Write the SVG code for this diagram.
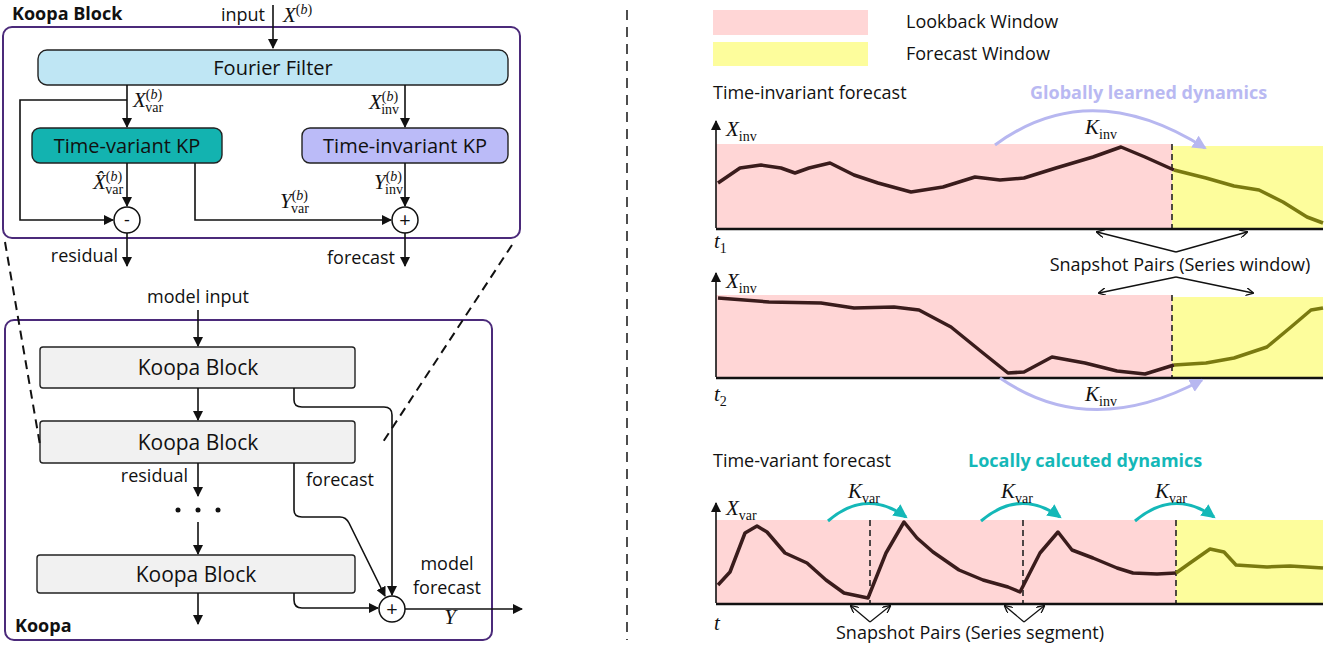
<svg xmlns="http://www.w3.org/2000/svg" width="1331" height="647" viewBox="0 0 1331 647">
<style>
text{font-family:"Open Sans","DejaVu Sans",sans-serif;font-size:18px;fill:#111}
.n{font-size:20px}
.b{font-weight:bold}
.m{font-family:"Liberation Serif",serif;font-style:italic;font-size:21px}
.s{font-family:"Liberation Serif",serif;font-size:14px;font-style:normal}
.si{font-family:"Liberation Serif",serif;font-size:14px;font-style:italic}
.c{text-anchor:middle}
.r{text-anchor:end}
.ln{fill:none;stroke:#111;stroke-width:1.6}
.box{stroke:#222;stroke-width:1.4}
.dash{fill:none;stroke:#111;stroke-width:2;stroke-dasharray:9 6}
.dk{fill:none;stroke:#3a1c1c;stroke-width:3.5;stroke-linejoin:round}
.ol{fill:none;stroke:#7a7a10;stroke-width:3.5;stroke-linejoin:round}
.vd{stroke:#222;stroke-width:1.6;stroke-dasharray:6 4}
</style>
<defs>
<marker id="a" markerWidth="10" markerHeight="10" refX="9" refY="5" orient="auto" markerUnits="userSpaceOnUse"><path d="M0,0 L10,5 L0,10 z" fill="#111"/></marker>
<marker id="sa" markerWidth="8" markerHeight="8" refX="7" refY="4" orient="auto" markerUnits="userSpaceOnUse"><path d="M0,0 L8,4 L0,8" fill="none" stroke="#111" stroke-width="1.3"/></marker>
<marker id="pa" markerWidth="16" markerHeight="16" refX="12" refY="8" orient="auto" markerUnits="userSpaceOnUse"><path d="M0,1 L14,8 L0,15 z" fill="#b7b7f0"/></marker>
<marker id="ta" markerWidth="16" markerHeight="16" refX="12" refY="8" orient="auto" markerUnits="userSpaceOnUse"><path d="M0,1 L14,8 L0,15 z" fill="#14b8b8"/></marker>
</defs>

<g id="koopa-block-frame">
<rect x="3" y="27" width="517" height="211" rx="9" fill="#fff" stroke="#4b2a7a" stroke-width="2"/>
<text x="12" y="20" class="b">Koopa Block</text>
</g>
<g id="fourier"><rect x="38" y="50" width="470" height="35" rx="9" fill="#bfe6f4" class="box"/><text x="273" y="75" class="c n">Fourier Filter</text></g>
<g id="tvkp"><rect x="32" y="128" width="190" height="35" rx="8" fill="#13b3b0" class="box"/><text x="127" y="153" class="c n">Time-variant KP</text></g>
<g id="tikp"><rect x="302" y="128" width="206" height="35" rx="8" fill="#bbbbf8" class="box"/><text x="405" y="153" class="c n">Time-invariant KP</text></g>
<g id="minus"><circle cx="127" cy="220" r="13" fill="#fff" stroke="#111" stroke-width="1.5"/><text x="127" y="226" class="c">-</text></g>
<g id="plus1"><circle cx="405" cy="220" r="13" fill="#fff" stroke="#111" stroke-width="1.5"/><text x="405" y="227" class="c n">+</text></g>

<g id="koopa-frame">
<rect x="5" y="320" width="487" height="320" rx="9" fill="#fff" stroke="#4b2a7a" stroke-width="2"/>
<text x="15" y="632" class="b">Koopa</text>
</g>
<g id="kb1"><rect x="40" y="347" width="315" height="41" rx="3" fill="#f1f1f1" class="box"/><text x="198" y="375" class="c" style="font-size:21px">Koopa Block</text></g>
<g id="kb2"><rect x="40" y="421" width="315" height="42" rx="3" fill="#f1f1f1" class="box"/><text x="198" y="450" class="c" style="font-size:21px">Koopa Block</text></g>
<g id="kb3"><rect x="37" y="555" width="318" height="38" rx="3" fill="#f1f1f1" class="box"/><text x="196" y="582" class="c" style="font-size:21px">Koopa Block</text></g>
<g id="plus2"><circle cx="392" cy="609" r="13" fill="#fff" stroke="#111" stroke-width="1.5"/><text x="392" y="616" class="c n">+</text></g>

<g id="connectors">
<path class="ln" d="M273,5 V48" marker-end="url(#a)"/>
<path class="ln" d="M127,85 V127" marker-end="url(#a)"/>
<path class="ln" d="M127,100 H20 V220 H113" marker-end="url(#a)"/>
<path class="ln" d="M405,85 V127" marker-end="url(#a)"/>
<path class="ln" d="M127,163 V206" marker-end="url(#a)"/>
<path class="ln" d="M195,163 V220 H391" marker-end="url(#a)"/>
<path class="ln" d="M405,163 V206" marker-end="url(#a)"/>
<path class="ln" d="M127,233 V266" marker-end="url(#a)"/>
<path class="ln" d="M405,233 V266" marker-end="url(#a)"/>
<path class="dash" d="M5,242 L40,445"/>
<path class="dash" d="M512,245 L381,445"/>
<path class="ln" d="M198,310 V346" marker-end="url(#a)"/>
<path class="ln" d="M198,388 V420" marker-end="url(#a)"/>
<path class="ln" d="M198,463 V496" marker-end="url(#a)"/>
<path class="ln" d="M198,522 V554" marker-end="url(#a)"/>
<path class="ln" d="M198,593 V624" marker-end="url(#a)"/>
<path class="ln" d="M294,388 V400 Q294,407 302,407 H384 Q392,407 392,415 V595" marker-end="url(#a)"/>
<path class="ln" d="M294,463 V510 Q294,517 302,517 H340 Q346,517 349,523 L385,596" marker-end="url(#a)"/>
<path class="ln" d="M294,593 V600 Q294,608 302,608 H378" marker-end="url(#a)"/>
<path class="ln" d="M405,609 H522" marker-end="url(#a)"/>
<path class="vd" d="M627,10 V640" style="stroke-dasharray:10 7"/>
</g>

<g id="labels-left">
<text x="265" y="21" class="r">input</text>
<text x="283" y="22" class="m">X<tspan class="s" dy="-8">(</tspan><tspan class="si">b</tspan><tspan class="s">)</tspan></text>
<text x="133" y="107" class="m">X<tspan class="s" dy="-8">(</tspan><tspan class="si">b</tspan><tspan class="s">)</tspan><tspan class="s" dx="-17" dy="13">var</tspan></text>
<text x="369" y="109" class="m">X<tspan class="s" dy="-8">(</tspan><tspan class="si">b</tspan><tspan class="s">)</tspan><tspan class="s" dx="-17" dy="13">inv</tspan></text>
<text x="93" y="189" class="m">X̂<tspan class="s" dy="-8">(</tspan><tspan class="si">b</tspan><tspan class="s">)</tspan><tspan class="s" dx="-17" dy="13">var</tspan></text>
<text x="374" y="189" class="m">Y<tspan class="s" dy="-8">(</tspan><tspan class="si">b</tspan><tspan class="s">)</tspan><tspan class="s" dx="-17" dy="13">inv</tspan></text>
<text x="280" y="208" class="m">Y<tspan class="s" dy="-8">(</tspan><tspan class="si">b</tspan><tspan class="s">)</tspan><tspan class="s" dx="-17" dy="13">var</tspan></text>
<text x="118" y="262" class="r">residual</text>
<text x="395" y="264" class="r">forecast</text>
<text x="198" y="303" class="c">model input</text>
<text x="188" y="482" class="r">residual</text>
<text x="306" y="486">forecast</text>
<circle cx="178" cy="510" r="2.5" fill="#111"/><circle cx="198" cy="510" r="2.5" fill="#111"/><circle cx="218" cy="510" r="2.5" fill="#111"/>
<text x="447" y="570" class="c">model</text>
<text x="447" y="594" class="c">forecast</text>
<text x="450" y="624" class="m c">Y</text>
</g>

<g id="legend">
<rect x="713" y="10" width="155" height="25" fill="#ffd6d6"/><text x="906" y="28">Lookback Window</text>
<rect x="713" y="42" width="155" height="24" fill="#fdfd9c"/><text x="906" y="60">Forecast Window</text>
</g>

<g id="chart1">
<text x="713" y="99">Time-invariant forecast</text>
<text x="1030" y="99" class="b" style="fill:#b9b9f2">Globally learned dynamics</text>
<rect x="716" y="144" width="456" height="84" fill="#ffd6d6"/>
<rect x="1172" y="146" width="151" height="82" fill="#fdfd9c"/>
<path class="vd" d="M1172,144 V228"/>
<path class="dk" d="M718,183 L740,168 761,165 781,168 795,173 809,168 830,163 854,175 878,183 911,192 943,187 975,177 1000,180 1024,178 1056,168 1093,157 1121,147 1145,157 1174,170"/>
<path class="ol" d="M1174,170 L1206,178 1234,186 1259,190 1283,202 1307,217 1323,223"/>
<path class="ln" d="M716,228 V121" marker-end="url(#a)"/>
<path class="ln" d="M716,229 H1323" style="stroke-width:2.5"/>
<path d="M995,145 Q1090,75 1205,148" fill="none" stroke="#b7b7f0" stroke-width="3" marker-end="url(#pa)"/>
<text x="726" y="136" class="m">X<tspan class="s" dy="5">inv</tspan></text>
<text x="1085" y="134" class="m">K<tspan class="s" dy="5">inv</tspan></text>
<text x="714" y="248" class="m">t<tspan class="s" dy="5">1</tspan></text>
</g>

<g id="snapshot-window">
<path class="ln" d="M1176,252 L1097,232" marker-end="url(#sa)" style="stroke-width:1.3"/>
<path class="ln" d="M1176,252 L1247,232" marker-end="url(#sa)" style="stroke-width:1.3"/>
<text x="1180" y="271" class="c">Snapshot Pairs (Series window)</text>
<path class="ln" d="M1176,277 L1099,293" marker-end="url(#sa)" style="stroke-width:1.3"/>
<path class="ln" d="M1176,277 L1253,293" marker-end="url(#sa)" style="stroke-width:1.3"/>
</g>

<g id="chart2">
<rect x="716" y="295" width="456" height="82" fill="#ffd6d6"/>
<rect x="1172" y="297" width="151" height="80" fill="#fdfd9c"/>
<path class="vd" d="M1172,295 V377"/>
<path class="dk" d="M718,298 L769,302 821,303 854,308 894,307 919,310 951,327 983,353 1008,373 1024,372 1052,357 1085,363 1117,371 1145,374 1174,365"/>
<path class="ol" d="M1174,365 L1206,363 1234,358 1267,347 1291,327 1311,310 1323,308"/>
<path class="ln" d="M716,377 V273" marker-end="url(#a)"/>
<path class="ln" d="M716,378 H1323" style="stroke-width:2.5"/>
<path d="M1000,378 Q1090,440 1202,380" fill="none" stroke="#b7b7f0" stroke-width="3" marker-end="url(#pa)"/>
<text x="726" y="288" class="m">X<tspan class="s" dy="5">inv</tspan></text>
<text x="1085" y="401" class="m">K<tspan class="s" dy="5">inv</tspan></text>
<text x="714" y="401" class="m">t<tspan class="s" dy="5">2</tspan></text>
</g>

<g id="chart3">
<text x="713" y="467">Time-variant forecast</text>
<text x="968" y="467" class="b" style="fill:#14b8b8">Locally calcuted dynamics</text>
<rect x="716" y="520" width="460" height="83" fill="#ffd6d6"/>
<rect x="1176" y="520" width="147" height="83" fill="#fdfd9c"/>
<path class="vd" d="M870,520 V603 M1023,520 V603 M1176,520 V603"/>
<path class="dk" d="M718,585 L730,572 745,533 757,526 767,532 785,553 807,563 826,580 844,593 868,598 886,553 904,522 917,538 933,552 959,570 983,580 1008,587 1020,592 1040,553 1058,532 1072,550 1093,558 1117,568 1133,573 1157,574 1176,573"/>
<path class="ol" d="M1176,573 L1190,563 1210,549 1224,552 1236,565 1267,567 1290,566 1323,568"/>
<path class="ln" d="M716,603 V503" marker-end="url(#a)"/>
<path class="ln" d="M716,604 H1323" style="stroke-width:2.5"/>
<path d="M828,521 Q866,488 906,517" fill="none" stroke="#14b8b8" stroke-width="3" marker-end="url(#ta)"/>
<path d="M981,521 Q1020,488 1060,517" fill="none" stroke="#14b8b8" stroke-width="3" marker-end="url(#ta)"/>
<path d="M1135,521 Q1174,488 1214,517" fill="none" stroke="#14b8b8" stroke-width="3" marker-end="url(#ta)"/>
<text x="848" y="498" class="m">K<tspan class="s" dy="5">var</tspan></text>
<text x="1001" y="498" class="m">K<tspan class="s" dy="5">var</tspan></text>
<text x="1155" y="498" class="m">K<tspan class="s" dy="5">var</tspan></text>
<text x="726" y="515" class="m">X<tspan class="s" dy="5">var</tspan></text>
<text x="714" y="630" class="m">t</text>
<path class="ln" d="M870,622 L851,606" marker-end="url(#sa)" style="stroke-width:1.3"/>
<path class="ln" d="M870,622 L890,606" marker-end="url(#sa)" style="stroke-width:1.3"/>
<path class="ln" d="M1024,622 L1005,606" marker-end="url(#sa)" style="stroke-width:1.3"/>
<path class="ln" d="M1024,622 L1044,606" marker-end="url(#sa)" style="stroke-width:1.3"/>
<text x="970" y="639" class="c">Snapshot Pairs (Series segment)</text>
</g>
</svg>
